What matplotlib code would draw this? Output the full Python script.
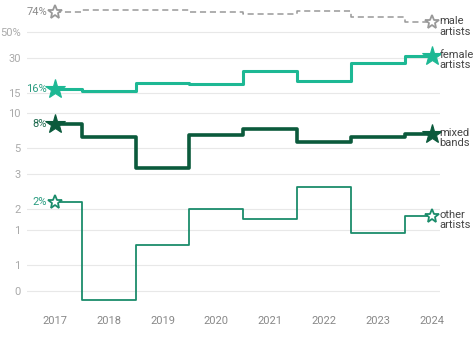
import matplotlib
matplotlib.use("Agg")
import matplotlib.pyplot as plt

plt.rcParams['font.family'] = ['Roboto', 'DejaVu Sans']

years = [2017, 2018, 2019, 2020, 2021, 2022, 2023, 2024]

male = [74, 76.4, 76.4, 73.5, 71.1, 75.9, 66.6, 60.1]
female = [16, 15.4, 18.1, 18.0, 22.9, 19.0, 26.8, 31.2]
mixed = [8.1, 6.2, 3.38, 6.5, 7.4, 5.7, 6.2, 6.7]
other = [1.74, 0.25, 0.74, 1.50, 1.24, 2.35, 0.94, 1.32]

names = ['male\nartists', 'female\nartists', 'mixed\nbands', 'other\nartists']
start_labels = ['74%', '16%', '8%', '2%']

yticks = [0.3, 0.5, 1, 1.5, 3, 5, 10, 15, 30, 50]
ytick_labels = ['0', '1', '1', '2', '3', '5', '10', '15', '30', '50%']

fig = plt.figure(figsize=(4.74, 3.45), dpi=100)
ax = fig.add_axes([27 / 474, 40 / 345, 413 / 474, 303 / 345])

series = [male, female, mixed, other]
colors = ['#999999', '#1db894', '#0b5a3c', '#1b8c6b']
label_colors = ['#8a8a8a', '#2a9c80', '#1f6b4f', '#2a9c80']
widths = [1.1, 2.2, 2.6, 1.3]
styles = [(0, (4, 2.5)), '-', '-', '-']
star_size = [10, 15, 15, 10]
star_fill = [False, True, True, False]

for vals, c, lw, ls, ms, filled in zip(series, colors, widths, styles, star_size, star_fill):
    ax.plot(years, vals, drawstyle='steps-mid', color=c, lw=lw, ls=ls, zorder=3)
    for i in (0, -1):
        ax.plot(years[i], vals[i], marker='*', ms=ms, color=c,
                mfc=c if filled else 'white', mew=1.3 if not filled else 0.8,
                zorder=4)

for vals, name, lab, lc in zip(series, names, start_labels, label_colors):
    ax.annotate(lab, (years[0], vals[0]), xytext=(-8, 0), textcoords='offset pixels',
                ha='right', va='center', fontsize=8, color=lc)
    ax.annotate(name, (years[-1], vals[-1]), xytext=(8, 6), textcoords='offset pixels',
                ha='left', va='top', fontsize=8, color='#444444', linespacing=1.05)

ax.set_yscale('log')
ax.set_ylim(0.227, 90)
ax.set_xlim(2016.48, 2024.156)
ax.set_yticks(yticks)
ax.set_yticklabels(ytick_labels)
ax.minorticks_off()
ax.set_xticks(years)
ax.tick_params(axis='y', length=0, pad=4.5, labelsize=8, labelcolor='#aaaaaa')
ax.tick_params(axis='x', length=0, pad=8, labelsize=8, labelcolor='#888888')
ax.grid(axis='y', color='#e8e8e8', lw=0.8)
ax.set_axisbelow(True)
for s in ax.spines.values():
    s.set_visible(False)

fig.savefig('out.png', dpi=100)
